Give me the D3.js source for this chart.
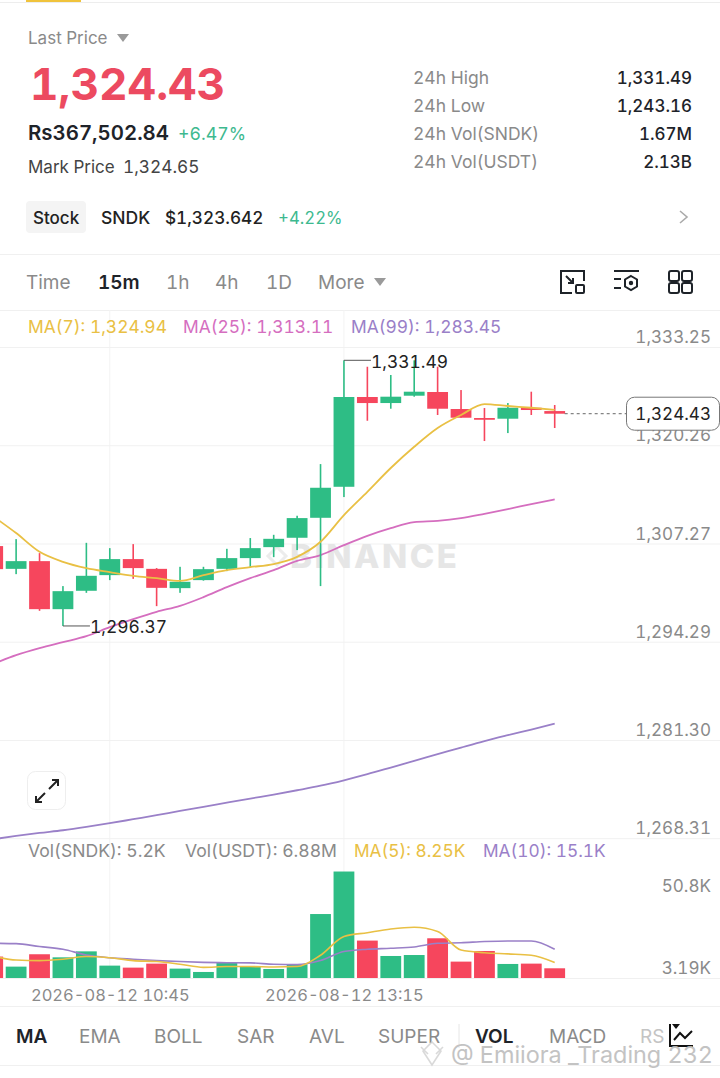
<!DOCTYPE html>
<head>
  <meta charset="utf-8">
  <script src="https://d3js.org/d3.v7.min.js"></script>
  <style>
    body { margin: 0; background: #fff; }
    svg { display: block; width: 720px; height: 1078px; font-family: Inter, "Noto Sans", sans-serif; font-variant-numeric: tabular-nums; font-feature-settings: "tnum" 1; }
    .axis path, .axis line { display: none; }
    .axis .grid { display: block; stroke: #f1f1f1; stroke-width: 1; }
    .axis text { fill: #8a8a8a; font-size: 17.1px; font-family: Inter, "Noto Sans", sans-serif; }
  </style>
</head>

<body>
  <svg viewBox="0 0 720 1078"></svg>
  <script>
    // 15m candles
    var times = ['09:30','09:45','10:00','10:15','10:30','10:45','11:00','11:15','11:30','11:45','12:00','12:15','12:30',
      '12:45','13:00','13:15','13:30','13:45','14:00','14:15','14:30','14:45','15:00','15:15','15:30'];
    var opens = [1306.93,1303.92,1304.94,1298.59,1301.02,1303.09,1305.21,1303.92,1301.37,1302.43,1303.92,1305.34,1306.79,
      1308.03,1310.67,1314.77,1326.64,1325.84,1326.81,1327.30,1325.05,1323.86,1323.77,1325.22,1324.78];
    var closes = [1303.88,1304.94,1298.59,1300.97,1303.00,1305.21,1304.02,1301.41,1302.21,1303.88,1305.34,1306.66,1307.89,
      1310.63,1314.64,1326.64,1325.84,1326.68,1327.34,1325.09,1323.90,1323.63,1325.22,1324.92,1324.43];
    var highs = [1307.60,1307.85,1306.00,1301.64,1307.36,1306.66,1307.19,1304.02,1304.19,1304.19,1306.57,1307.99,1308.42,
      1310.94,1317.77,1331.49,1330.64,1329.55,1331.49,1330.64,1327.56,1325.18,1325.84,1327.34,1325.58];
    var lows = [1303.50,1303.22,1298.37,1296.37,1300.75,1302.43,1302.60,1298.99,1300.75,1302.36,1303.62,1304.15,1305.47,
      1306.40,1301.64,1313.41,1323.50,1325.09,1326.68,1324.26,1323.90,1320.82,1321.87,1324.26,1322.54];
    var ma7 = [1310.90,1308.65,1306.17,1304.85,1304.02,1303.49,1303.00,1302.69,1302.34,1303.09,1303.75,1304.15,1304.55,
      1305.51,1307.50,1311.03,1314.11,1317.25,1320.06,1322.54,1324.26,1325.71,1325.45,1325.22,1324.94];
    var ma25 = [1291.32,1292.51,1293.44,1294.23,1295.02,1296.21,1297.27,1298.24,1299.03,1300.18,1301.50,1302.69,1303.75,
      1304.98,1305.74,1307.06,1308.29,1309.31,1310.10,1310.27,1310.63,1311.20,1311.82,1312.48,1313.11];
    var ma99 = [1268.17,1268.61,1269.00,1269.36,1269.80,1270.29,1270.82,1271.35,1271.91,1272.44,1273.00,1273.55,1274.08,
      1274.65,1275.25,1275.97,1276.77,1277.65,1278.54,1279.41,1280.29,1281.15,1281.93,1282.68,1283.45];
    // volume in thousands
    var vols = [11.3,6.07,12.5,10.9,14.0,6.59,5.55,7.63,5.03,3.29,7.97,6.24,4.85,7.28,33.4,55.5,19.6,11.6,12.1,20.8,8.67,14.2,7.45,7.63,5.2];
    var volMa5 = [11.6,9.5,9.2,9.9,11.3,10.7,9.2,8.7,7.3,5.7,6.1,6.1,5.9,6.1,12.0,21.7,23.7,25.6,26.5,24.3,14.7,13.3,12.7,12.0,8.25];
    var volMa10 = [18.2,18.0,16.5,15.1,12.1,10.7,9.9,9.2,8.7,8.3,8.1,8.0,7.3,7.1,9.2,13.9,15.1,15.6,16.3,18.2,18.5,19.1,19.4,19.4,15.1];

    var priceTicks = [1333.25,1320.26,1307.27,1294.29,1281.30,1268.31];
    var volTicks = [3.19,50.8];
    var dateTicks = ['10:45','13:15'];
    var lastPrice = 1324.43, highPrice = 1331.49, lowPrice = 1296.37;

    var statRows = [['24h High','1,331.49'],['24h Low','1,243.16'],['24h Vol(SNDK)','1.67M'],['24h Vol(USDT)','2.13B']];
    var intervals = [['Time',26,'#8a8a8a',400],['15m',98,'#1e2329',600],['1h',166,'#8a8a8a',400],['4h',215,'#8a8a8a',400],['1D',266,'#8a8a8a',400],['More',318,'#8a8a8a',400]];
    var tabs = [['MA',16,'#1e2329',600],['EMA',79,'#8a8a8a',400],['BOLL',154,'#8a8a8a',400],['SAR',237,'#8a8a8a',400],['AVL',309,'#8a8a8a',400],
      ['SUPER',378,'#8a8a8a',400],['VOL',475,'#1e2329',600],['MACD',549,'#8a8a8a',400],['RS',640,'#c4c4c4',400]];

    var GREEN = '#2EBD85', RED = '#F6465D', YEL = '#E9C044', PINK = '#D56EBF', PURP = '#9A80C8';
    var GREY = '#8a8a8a', DARK = '#1e2329';

    var svg = d3.select('svg');
    var parseT = function(t) { return new Date('2026-08-12T' + t + ':00Z'); };
    var candles = times.map(function(t, i) {
      return {t: parseT(t), o: opens[i], c: closes[i], h: highs[i], l: lows[i], v: vols[i], up: closes[i] >= opens[i]};
    });

    var x = d3.scaleUtc().domain([parseT('09:30'), parseT('15:30')]).range([-7.3, 554.7]);
    var y = d3.scaleLinear().domain([1333.25, 1268.31]).range([347, 838.2]);
    var yVol = d3.scaleLinear().domain([0, 50]).range([978.3, 882.1]);
    // the volume tick labels do not sit on the bar scale in the picture
    var yVolLabel = d3.scaleLinear().domain(volTicks).range([972.5, 890.5]);

    function label(txt, px, py, size, fill, weight, anchor) {
      return svg.append('text').attr('x', px).attr('y', py).attr('font-size', size).attr('fill', fill)
        .attr('font-weight', weight || 400).attr('text-anchor', anchor || 'start').text(txt);
    }
    function hline(py, col) {
      svg.append('line').attr('x1', 0).attr('x2', 720).attr('y1', py).attr('y2', py).attr('stroke', col || '#f0f0f0');
    }

    // header
    svg.append('rect').attr('x', 26).attr('y', 0).attr('width', 55).attr('height', 2).attr('fill', '#F0C33C');
    hline(2.5, '#ededed');
    label('Last Price', 28, 44, 17, GREY);
    svg.append('path').attr('d', 'M117,34H129L123,42Z').attr('fill', '#9a9a9a');
    label('1,324.43', 30, 100, 44.2, '#EC4A60', 700);
    label('Rs367,502.84', 28, 140, 20.4, DARK, 600);
    label('+6.47%', 178, 140, 17.7, '#3DB98F');
    label('Mark Price', 28, 173, 17, '#444');
    label('1,324.65', 123, 173, 17.3, '#444');
    statRows.forEach(function(r, i) {
      label(r[0], 413, 84 + i * 28, 17.5, GREY);
      label(r[1], 692, 84 + i * 28, 17, DARK, 500, 'end');
    });
    svg.append('rect').attr('x', 26).attr('y', 201).attr('width', 60).attr('height', 32).attr('rx', 4).attr('fill', '#f4f4f4');
    label('Stock', 33, 224, 17, '#222', 500);
    label('SNDK', 101, 224, 17.5, '#222', 500);
    label('$1,323.642', 165, 224, 17.2, '#222', 500);
    label('+4.22%', 278, 224, 16.8, '#3DB98F');
    svg.append('path').attr('d', 'M680,211L687,217L680,223').attr('fill', 'none').attr('stroke', '#aaa').attr('stroke-width', 1.6);
    hline(254.5);

    // interval row
    intervals.forEach(function(d) { label(d[0], d[1], 289, 19, d[2], d[3]); });
    svg.append('path').attr('d', 'M374,278H386L380,286Z').attr('fill', '#9a9a9a');
    var ic = svg.append('g').attr('fill', 'none').attr('stroke', DARK).attr('stroke-width', 2);
    ic.append('path').attr('d', 'M572,293H561V271H584V281M566,276L573,283M573,278V283H568');
    ic.append('rect').attr('x', 576).attr('y', 285).attr('width', 8).attr('height', 8).attr('rx', 1);
    ic.append('path').attr('d', 'M614,271H639M614,279H621M614,288H621M631,276L637,279.5V286.5L631,290L625,286.5V279.5Z');
    ic.append('circle').attr('cx', 631).attr('cy', 283).attr('r', 1.2).attr('fill', DARK);
    [[669,271],[682,271],[669,283],[682,283]].forEach(function(p) {
      ic.append('rect').attr('x', p[0]).attr('y', p[1]).attr('width', 10).attr('height', 10).attr('rx', 2);
    });
    hline(310.5);

    // grid and price axis
    svg.append('g').selectAll('line').data(dateTicks).enter().append('line')
      .attr('x1', function(d) { return x(parseT(d)); }).attr('x2', function(d) { return x(parseT(d)); })
      .attr('y1', 310).attr('y2', 978).attr('stroke', '#f3f3f3');
    var yAxis = svg.append('g').attr('class', 'axis').attr('transform', 'translate(720,0)')
      .call(d3.axisLeft(y).tickValues(priceTicks).tickSize(0).tickFormat(d3.format(',.2f')));
    yAxis.selectAll('.tick').append('line').attr('class', 'grid').attr('x1', -720).attr('x2', 0);
    yAxis.selectAll('text').attr('x', -9).attr('dy', '-0.25em').attr('text-anchor', 'end');

    label('MA(7): 1,324.94', 28, 333, 17.4, YEL);
    label('MA(25): 1,313.11', 183, 333, 17.4, PINK);
    label('MA(99): 1,283.45', 351, 333, 17.4, PURP);

    // watermark
    label('BINANCE', 290, 568, 33, '#e6e6e6', 800).attr('letter-spacing', 2.5);
    var wm = svg.append('g').attr('fill', 'none').attr('stroke', '#ececec').attr('stroke-width', 3);
    wm.append('path').attr('d', 'M277,547L286,556L277,565L268,556Z');

    // MA lines
    var line = d3.line().x(function(d) { return x(d.t); }).y(function(d) { return y(d.v); }).curve(d3.curveMonotoneX);
    [[ma99, PURP], [ma25, PINK]].forEach(function(s) {
      svg.append('path').datum(s[0].map(function(v, i) { return {t: candles[i].t, v: v}; }))
        .attr('d', line).attr('fill', 'none').attr('stroke', s[1]).attr('stroke-width', 1.8);
    });

    // candles
    var bw = 20.8;
    var cg = svg.append('g').selectAll('g').data(candles).enter().append('g')
      .attr('fill', function(d) { return d.up ? GREEN : RED; });
    cg.append('rect').attr('x', function(d) { return x(d.t) - 0.8; }).attr('width', 1.6)
      .attr('y', function(d) { return y(d.h); }).attr('height', function(d) { return y(d.l) - y(d.h); });
    cg.append('rect').attr('x', function(d) { return x(d.t) - bw / 2; }).attr('width', bw)
      .attr('y', function(d) { return y(Math.max(d.o, d.c)); })
      .attr('height', function(d) { return Math.max(1.5, Math.abs(y(d.o) - y(d.c))); });

    svg.append('path').datum(ma7.map(function(v, i) { return {t: candles[i].t, v: v}; }))
      .attr('d', line).attr('fill', 'none').attr('stroke', YEL).attr('stroke-width', 1.8);

    // high / low markers
    var hiC = candles[15], loC = candles[3];
    svg.append('path').attr('fill', 'none').attr('stroke', '#555').attr('stroke-width', 1)
      .attr('d', 'M' + x(hiC.t) + ',' + y(highPrice) + 'H' + (x(hiC.t) + 27));
    svg.append('path').attr('fill', 'none').attr('stroke', '#555').attr('stroke-width', 1)
      .attr('d', 'M' + x(loC.t) + ',' + y(lowPrice) + 'H' + (x(loC.t) + 27));
    label(d3.format(',.2f')(highPrice), x(hiC.t) + 27, y(highPrice) + 7.5, 17.4, '#222');
    label(d3.format(',.2f')(lowPrice), x(loC.t) + 27, y(lowPrice) + 7, 17.4, '#222');

    // last price tag
    svg.append('line').attr('x1', x(candles[24].t) + 10).attr('x2', 626)
      .attr('y1', y(lastPrice)).attr('y2', y(lastPrice))
      .attr('stroke', '#666').attr('stroke-dasharray', '3,3');
    svg.append('rect').attr('x', 626.5).attr('y', y(lastPrice) - 16.5).attr('width', 93).attr('height', 33).attr('rx', 8)
      .attr('fill', '#fff').attr('stroke', '#777');
    label(d3.format(',.2f')(lastPrice), 711, y(lastPrice) + 6, 17.1, '#222', 400, 'end');

    // expand button
    svg.append('rect').attr('x', 27.5).attr('y', 771.5).attr('width', 38).attr('height', 38).attr('rx', 8)
      .attr('fill', '#fff').attr('stroke', '#eeeeee');
    svg.append('path').attr('fill', 'none').attr('stroke', '#222').attr('stroke-width', 2)
      .attr('d', 'M49,789L58,780M52,780H58V786M45,793L36,802M36,796V802H42');

    // volume panel
    label('Vol(SNDK): 5.2K', 28, 857, 17.6, GREY);
    label('Vol(USDT): 6.88M', 185, 857, 17.6, GREY);
    label('MA(5): 8.25K', 354, 857, 17.3, YEL);
    label('MA(10): 15.1K', 483, 857, 17.3, PURP);

    svg.append('g').selectAll('rect').data(candles).enter().append('rect')
      .attr('x', function(d) { return x(d.t) - bw / 2; }).attr('width', bw)
      .attr('y', function(d) { return yVol(d.v); })
      .attr('height', function(d) { return yVol(0) - yVol(d.v); })
      .attr('fill', function(d) { return d.up ? GREEN : RED; });
    var vline = d3.line().x(function(d) { return x(d.t); }).y(function(d) { return yVol(d.v); }).curve(d3.curveMonotoneX);
    [[volMa10, PURP], [volMa5, YEL]].forEach(function(s) {
      svg.append('path').datum(s[0].map(function(v, i) { return {t: candles[i].t, v: v}; }))
        .attr('d', vline).attr('fill', 'none').attr('stroke', s[1]).attr('stroke-width', 1.6);
    });
    hline(978.5);
    var vAxis = svg.append('g').attr('class', 'axis').attr('transform', 'translate(720,0)')
      .call(d3.axisLeft(yVolLabel).tickValues(volTicks).tickSize(0).tickFormat(function(d) { return d + 'K'; }));
    vAxis.selectAll('text').attr('x', -9).attr('dy', '0.05em').attr('text-anchor', 'end');

    // time axis
    var xAxis = svg.append('g').attr('class', 'axis').attr('transform', 'translate(0,983)')
      .call(d3.axisBottom(x).tickValues(dateTicks.map(parseT)).tickSize(0).tickFormat(d3.utcFormat('%Y-%m-%d %H:%M')));
    xAxis.selectAll('text').attr('y', 6).style('font-size', '16.5px');
    hline(1006.5);

    // indicator tabs
    tabs.forEach(function(d) { label(d[0], d[1], 1043, 19, d[2], d[3]); });
    svg.append('line').attr('x1', 459).attr('x2', 459).attr('y1', 1024).attr('y2', 1048).attr('stroke', '#e6e6e6');
    svg.append('path').attr('fill', 'none').attr('stroke', '#111').attr('stroke-width', 2)
      .attr('d', 'M670,1024V1046H693M674,1040L680,1033L685,1038L692,1031');
    svg.append('path').attr('d', 'M672,1024H680L676,1029Z').attr('fill', '#111');
    hline(1065.5);

    // overlay watermark of the post
    var ow = svg.append('g').attr('fill', 'none').attr('stroke', '#cfcfcf').attr('stroke-width', 1.6).attr('opacity', 0.8);
    ow.append('path').attr('d', 'M432,1042L441,1051L432,1065L423,1051ZM421,1047L428,1054M443,1047L436,1054');
    label('@ Emiiora _Trading 232', 451, 1063, 23.4, '#bdbdbd').attr('opacity', 0.9);
  </script>
</body>
